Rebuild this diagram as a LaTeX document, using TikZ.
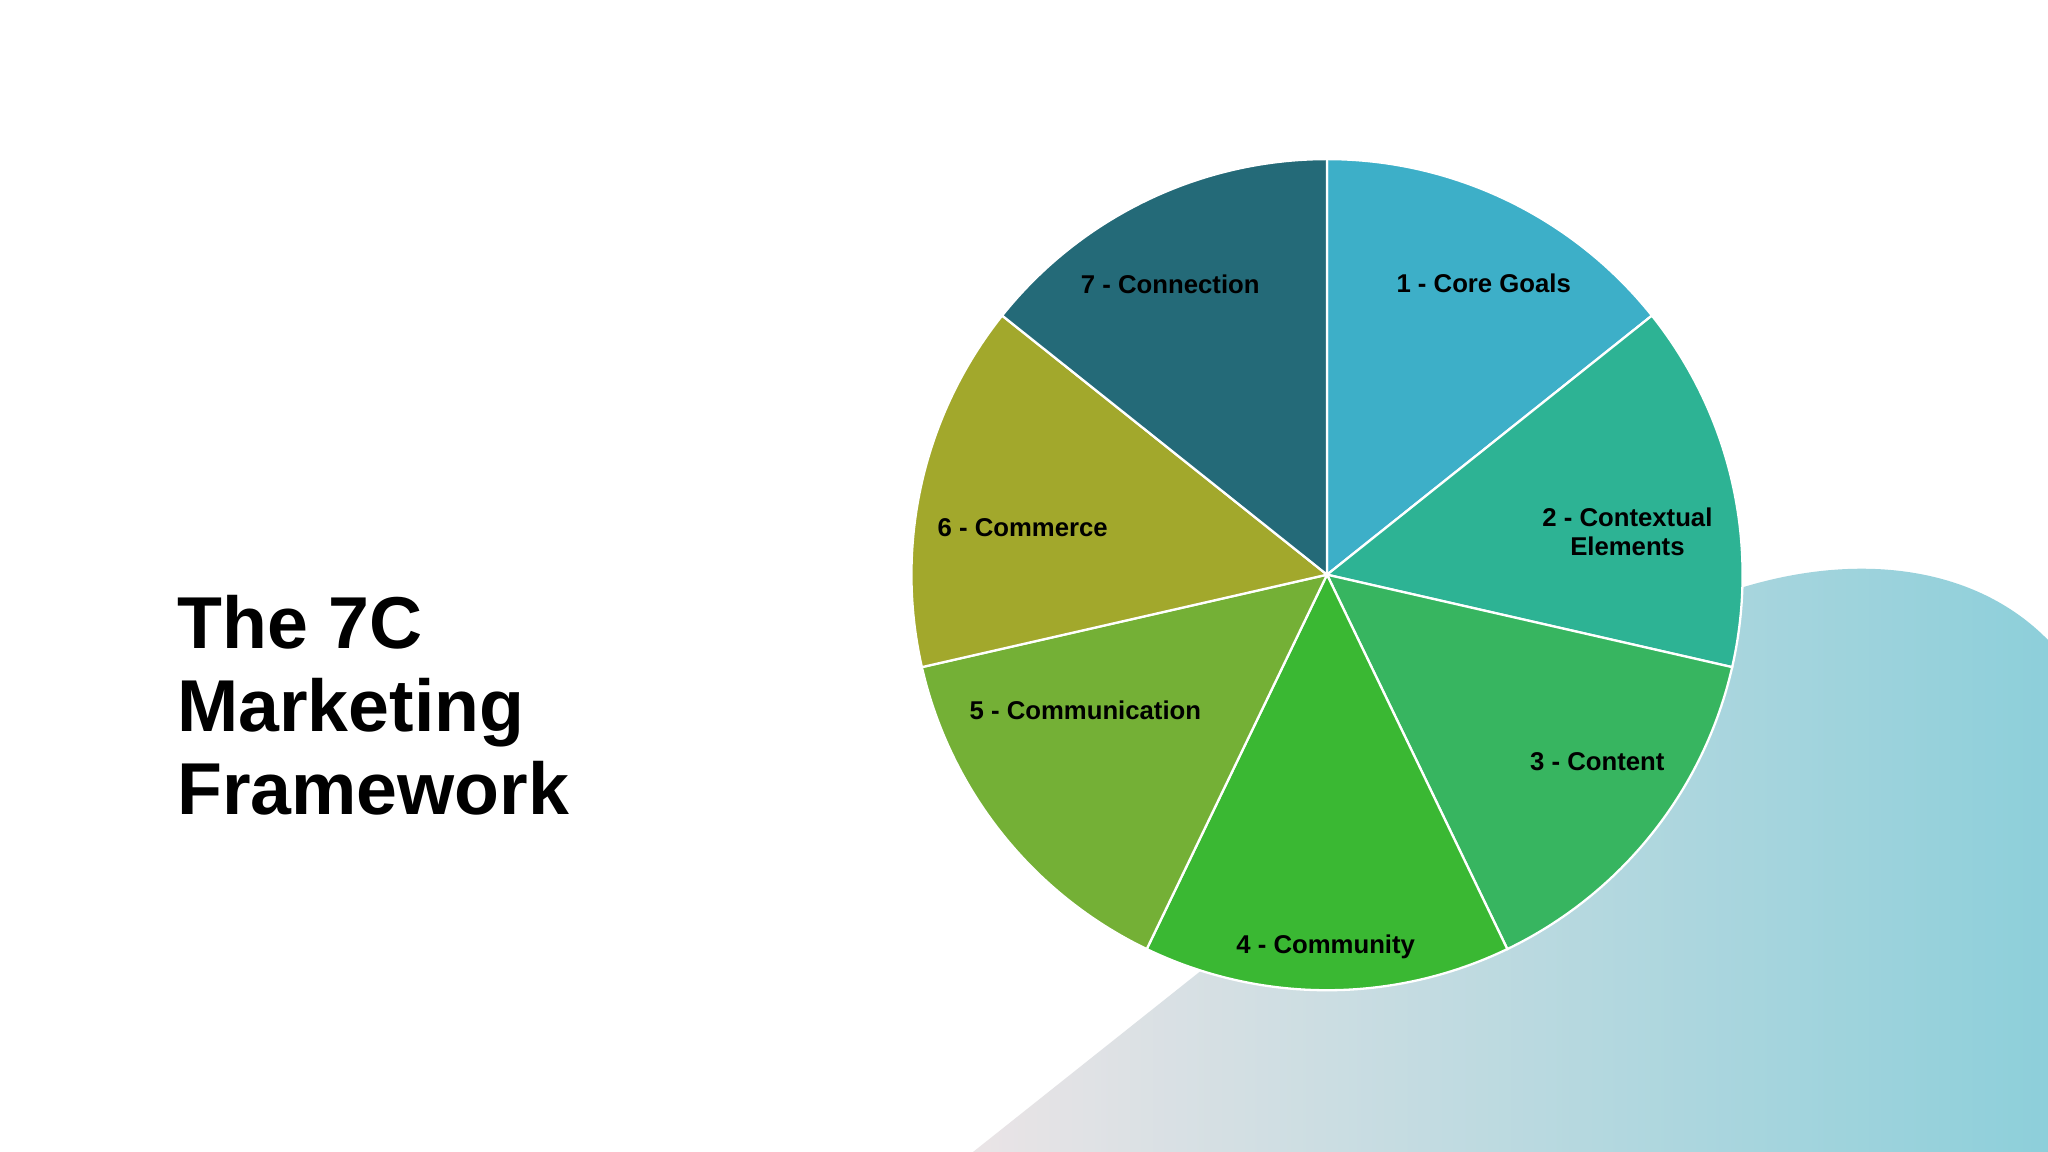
\documentclass[tikz,border=0pt]{standalone}
\usepackage{fontspec}
\setmainfont{Liberation Sans}
\begin{document}
\begin{tikzpicture}[x=0.01cm,y=0.01cm,
  lab/.style={font=\fontsize{5.6}{6.4}\selectfont\bfseries,align=center,text=black},
  slice/.style={draw=white,line width=0.5pt}]
\definecolor{c1}{HTML}{3DAFC8}
\definecolor{c2}{HTML}{2DB394}
\definecolor{c3}{HTML}{37B560}
\definecolor{c4}{HTML}{3AB833}
\definecolor{c5}{HTML}{74B036}
\definecolor{c6}{HTML}{A2A82C}
\definecolor{c7}{HTML}{246A78}
\definecolor{bgL}{HTML}{EAE4E6}
\definecolor{bgR}{HTML}{8DCFDA}
\useasboundingbox (0,0) rectangle (1568,882);
\fill[white] (0,0) rectangle (1568,882);
\shade[left color=bgL,right color=bgR] (745,0) -- (1150,322) .. controls (1300,462) and (1480,482) .. (1568,392) -- (1568,0) -- cycle;
\coordinate (C) at (1016,442);
\foreach \i/\col in {0/c1,1/c2,2/c3,3/c4,4/c5,5/c6,6/c7}{
  \pgfmathsetmacro{\a}{90-\i*360/7}
  \pgfmathsetmacro{\b}{90-(\i+1)*360/7}
  \filldraw[slice,fill=\col] (C) -- ++(\a:3.18cm) arc[start angle=\a,end angle=\b,radius=3.18cm] -- cycle;
}
\node[lab] (l1) at (1136,665) {1 - Core Goals};
\node[lab] (l2) at (1246,475) {2 - Contextual\\Elements};
\node[lab] (l3) at (1223,299) {3 - Content};
\node[lab] (l4) at (1015,157) {4 - Community};
\node[lab] (l5) at (831,338) {5 - Communication};
\node[lab] (l6) at (783,478) {6 - Commerce};
\node[lab] (l7) at (896,664) {7 - Connection};
\node[anchor=west,align=left,inner sep=0pt,font=\fontsize{16}{18}\selectfont\bfseries] (title) at (135,342) {The 7C\\Marketing\\Framework};
\end{tikzpicture}
\end{document}
